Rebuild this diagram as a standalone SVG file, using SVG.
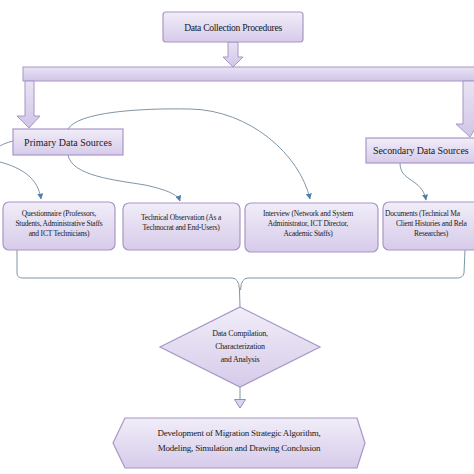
<svg xmlns="http://www.w3.org/2000/svg" width="474" height="474" viewBox="0 0 474 474">
<defs>
<linearGradient id="g" x1="0" y1="0" x2="0" y2="1">
<stop offset="0" stop-color="#f1edf8"/>
<stop offset="1" stop-color="#d6cbea"/>
</linearGradient>
<linearGradient id="gh" x1="0" y1="0" x2="0" y2="1">
<stop offset="0" stop-color="#e9e3f4"/>
<stop offset="1" stop-color="#d2c5e8"/>
</linearGradient>
<marker id="ah" viewBox="0 0 10 10" refX="9" refY="5" markerWidth="6" markerHeight="6" orient="auto">
<path d="M0,0 L10,5 L0,10 z" fill="#4f7fae"/>
</marker>
<marker id="tri" viewBox="0 0 12 10" refX="6" refY="9" markerWidth="12" markerHeight="10" markerUnits="userSpaceOnUse" orient="0">
<path d="M0.5,0.5 L11.5,0.5 L6,9 z" fill="#ddd3ee" stroke="#9b8bbb" stroke-width="1"/>
</marker>
</defs>
<style>
.box{fill:url(#g);stroke:#a896c6;stroke-width:1.2}
.blk{fill:url(#gh);stroke:#a896c6;stroke-width:1}
.t{font-family:"Liberation Serif","Times New Roman",serif;fill:#1a1a1a;text-anchor:middle}
.c{fill:none;stroke:#7f95a8;stroke-width:1}
</style>
<g id="connectors">
<path class="c" d="M13,141 C-8,146 -14,158 0,162 C22,168 38,178 41,199" marker-end="url(#ah)"/>
<path class="c" d="M68,129 C78,112 140,108 190,109 C250,110 300,155 310,199" marker-end="url(#ah)"/>
<path class="c" d="M68,155 C72,176 115,180 145,185 C168,190 178,195 180,201" marker-end="url(#ah)"/>
<path class="c" d="M400,163 C400,182 422,178 426,200" marker-end="url(#ah)"/>
<path class="c" d="M17,250 L17,273 Q17,278 23,278 L232,278 Q239,278 239.5,290 L240,307"/>
<path class="c" d="M465,250 L464,273 Q463,278 457,278 L248,278 Q241,278 240.5,290"/>
<path class="c" d="M240,387 L240,408" marker-end="url(#tri)"/>
</g>
<g id="arrows">
<path class="blk" d="M228,42 L238,42 L238,57 L243,57 L233,67 L223,57 L228,57 z"/>
<rect class="blk" x="23" y="67" width="460" height="14"/>
<path class="blk" d="M25,81 L34,81 L34,116 L40,116 L29,128 L17,116 L25,116 z"/>
<path class="blk" d="M463,81 L476,81 L476,124 L478,124 L470,137 L456,124 L463,124 z"/>
</g>
<g id="n-top">
<rect class="box" x="163" y="12" width="140" height="30" rx="3"/>
<text class="t" x="233" y="31" font-size="9.6" letter-spacing="-0.3">Data Collection Procedures</text>
</g>
<g id="n-primary">
<rect class="box" x="13" y="129" width="110" height="26"/>
<text class="t" x="68" y="146" font-size="10">Primary Data Sources</text>
</g>
<g id="n-secondary">
<rect class="box" x="366" y="138" width="120" height="25"/>
<text class="t" x="373" y="154" font-size="10" letter-spacing="-0.1" style="text-anchor:start">Secondary Data Sources</text>
</g>
<g id="n-quest">
<rect class="box" x="3" y="202" width="112" height="48" rx="6"/>
<text class="t" x="59" y="216" font-size="7.5" letter-spacing="-0.2">Questionnaire (Professors,</text>
<text class="t" x="59" y="226" font-size="7.5" letter-spacing="-0.2">Students, Administrative Staffs</text>
<text class="t" x="59" y="236" font-size="7.5" letter-spacing="-0.2">and ICT Technicians)</text>
</g>
<g id="n-tech">
<rect class="box" x="123" y="203" width="117" height="47" rx="6"/>
<text class="t" x="181" y="220" font-size="7.5" letter-spacing="-0.2">Technical Observation (As a</text>
<text class="t" x="181" y="230" font-size="7.5" letter-spacing="-0.2">Technocrat and End-Users)</text>
</g>
<g id="n-interview">
<rect class="box" x="245" y="203" width="133" height="49" rx="6"/>
<text class="t" x="308" y="216" font-size="7.5" letter-spacing="-0.2">Interview (Network and System</text>
<text class="t" x="308" y="226" font-size="7.5" letter-spacing="-0.2">Administrator, ICT Director,</text>
<text class="t" x="308" y="236" font-size="7.5" letter-spacing="-0.2">Academic Staffs)</text>
</g>
<g id="n-docs">
<rect class="box" x="383" y="202" width="110" height="48" rx="6"/>
<text class="t" x="385" y="216" font-size="7.5" letter-spacing="-0.2" style="text-anchor:start">Documents (Technical Ma</text>
<text class="t" x="396" y="226" font-size="7.5" letter-spacing="-0.2" style="text-anchor:start">Client Histories and Rela</text>
<text class="t" x="431" y="236" font-size="7.5" letter-spacing="-0.2">Researches)</text>
</g>
<g id="n-diamond">
<path class="box" d="M240,307 L320,347 L240,387 L160,347 z"/>
<text class="t" x="240" y="336" font-size="8" letter-spacing="-0.2">Data Compilation,</text>
<text class="t" x="240" y="349" font-size="8" letter-spacing="-0.2">Characterization</text>
<text class="t" x="240" y="362" font-size="8" letter-spacing="-0.2">and Analysis</text>
</g>
<g id="n-final">
<path class="box" d="M125,418 L357,418 L365,443 L357,468 L125,468 L113,443 z"/>
<text class="t" x="239" y="436" font-size="9" letter-spacing="-0.2">Development of Migration Strategic Algorithm,</text>
<text class="t" x="239" y="451" font-size="9" letter-spacing="-0.2">Modeling, Simulation and Drawing Conclusion</text>
</g>
</svg>
